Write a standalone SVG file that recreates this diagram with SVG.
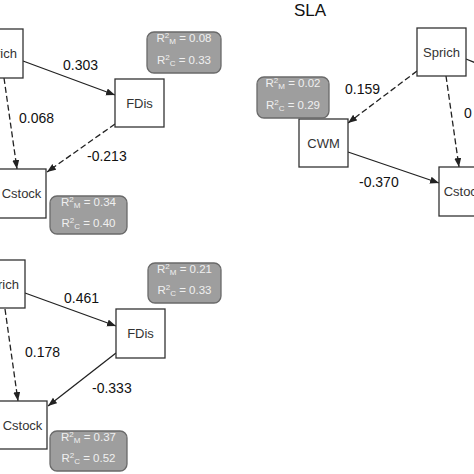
<svg xmlns="http://www.w3.org/2000/svg" width="474" height="474" viewBox="0 0 474 474">
<defs>
<marker id="ah" markerUnits="userSpaceOnUse" markerWidth="10" markerHeight="8" refX="9" refY="3.5" orient="auto">
<path d="M0,0 L9,3.5 L0,7 z" fill="#222"/>
</marker>
<style>
.node rect{fill:#fff;stroke:#333;stroke-width:1.3}
.node text{font-family:"Liberation Sans",Arial,sans-serif;font-size:13px;fill:#333;text-anchor:middle}
.r2 rect{fill:#9e9e9e;stroke:#6a6a6a;stroke-width:1.3}
.r2 text{font-family:"Liberation Sans",Arial,sans-serif;font-size:11.5px;fill:#f0f0f0;text-anchor:middle}
.r2 .s{font-size:8px}
.edge{stroke:#222;stroke-width:1.3;fill:none}
.dash{stroke-dasharray:6,3}
.lbl{font-family:"Liberation Sans",Arial,sans-serif;font-size:14px;fill:#111}
</style>
</defs>
<rect width="474" height="474" fill="#fff"/>
<text x="294" y="16" font-family="Liberation Sans, Arial, sans-serif" font-size="17" fill="#111">SLA</text>
<g id="connectors">
<line class="edge" x1="23" y1="61" x2="115" y2="95" marker-end="url(#ah)"/>
<line class="edge dash" x1="4" y1="78" x2="17" y2="169" marker-end="url(#ah)"/>
<line class="edge dash" x1="115" y1="124" x2="47" y2="172" marker-end="url(#ah)"/>
<line class="edge dash" x1="417" y1="71" x2="348" y2="123" marker-end="url(#ah)"/>
<line class="edge dash" x1="446" y1="76" x2="459" y2="167" marker-end="url(#ah)"/>
<line class="edge" x1="466" y1="59" x2="476" y2="63"/>
<line class="edge" x1="348" y1="152" x2="439" y2="183" marker-end="url(#ah)"/>
<line class="edge" x1="25" y1="293" x2="116" y2="326" marker-end="url(#ah)"/>
<line class="edge dash" x1="5" y1="309" x2="18" y2="401" marker-end="url(#ah)"/>
<line class="edge" x1="116" y1="353" x2="48" y2="406" marker-end="url(#ah)"/>
<text class="lbl" x="63" y="70">0.303</text>
<text class="lbl" x="19" y="123">0.068</text>
<text class="lbl" x="87" y="161">-0.213</text>
<text class="lbl" x="345" y="94">0.159</text>
<text class="lbl" x="464" y="118">0</text>
<text class="lbl" x="359" y="187">-0.370</text>
<text class="lbl" x="64" y="303">0.461</text>
<text class="lbl" x="25" y="357">0.178</text>
<text class="lbl" x="92" y="393">-0.333</text>
</g>
<g id="tl-sprich" class="node"><rect x="-26" y="29" width="49" height="49"/><text x="-1.5" y="58">Sprich</text></g>
<g id="tl-fdis" class="node"><rect x="115" y="79" width="49" height="48"/><text x="139.5" y="108">FDis</text></g>
<g id="tl-cstock" class="node"><rect x="-3" y="169" width="49" height="49"/><text x="21.5" y="198">Cstock</text></g>
<g id="sla-sprich" class="node"><rect x="417" y="28" width="49" height="48"/><text x="441.5" y="57">Sprich</text></g>
<g id="sla-cwm" class="node"><rect x="299" y="119" width="49" height="48"/><text x="323.5" y="148">CWM</text></g>
<g id="sla-cstock" class="node"><rect x="439" y="167" width="49" height="49"/><text x="463.5" y="196">Cstock</text></g>
<g id="bl-sprich" class="node"><rect x="-24" y="260" width="49" height="48"/><text x="0.5" y="289">Sprich</text></g>
<g id="bl-fdis" class="node"><rect x="116" y="309" width="49" height="49"/><text x="140.5" y="338">FDis</text></g>
<g id="bl-cstock" class="node"><rect x="-2" y="401" width="49" height="48"/><text x="22.5" y="430">Cstock</text></g>
<g id="r2-tl-fdis" class="r2"><rect x="147" y="32" width="74" height="41" rx="7"/>
<text x="184" y="42">R<tspan class="s" dy="-4">2</tspan><tspan class="s" dy="6">M</tspan><tspan dy="-2"> = 0.08</tspan></text>
<text x="184" y="64">R<tspan class="s" dy="-4">2</tspan><tspan class="s" dy="6">C</tspan><tspan dy="-2"> = 0.33</tspan></text></g>
<g id="r2-tl-cstock" class="r2"><rect x="50" y="196" width="77" height="38" rx="7"/>
<text x="88.5" y="206">R<tspan class="s" dy="-4">2</tspan><tspan class="s" dy="6">M</tspan><tspan dy="-2"> = 0.34</tspan></text>
<text x="88.5" y="227">R<tspan class="s" dy="-4">2</tspan><tspan class="s" dy="6">C</tspan><tspan dy="-2"> = 0.40</tspan></text></g>
<g id="r2-sla-cwm" class="r2"><rect x="257" y="77" width="72" height="41" rx="7"/>
<text x="293" y="87">R<tspan class="s" dy="-4">2</tspan><tspan class="s" dy="6">M</tspan><tspan dy="-2"> = 0.02</tspan></text>
<text x="293" y="109">R<tspan class="s" dy="-4">2</tspan><tspan class="s" dy="6">C</tspan><tspan dy="-2"> = 0.29</tspan></text></g>
<g id="r2-bl-fdis" class="r2"><rect x="148" y="263" width="73" height="40" rx="7"/>
<text x="184.5" y="273">R<tspan class="s" dy="-4">2</tspan><tspan class="s" dy="6">M</tspan><tspan dy="-2"> = 0.21</tspan></text>
<text x="184.5" y="294">R<tspan class="s" dy="-4">2</tspan><tspan class="s" dy="6">C</tspan><tspan dy="-2"> = 0.33</tspan></text></g>
<g id="r2-bl-cstock" class="r2"><rect x="50" y="431" width="77" height="40" rx="7"/>
<text x="88.5" y="441">R<tspan class="s" dy="-4">2</tspan><tspan class="s" dy="6">M</tspan><tspan dy="-2"> = 0.37</tspan></text>
<text x="88.5" y="462">R<tspan class="s" dy="-4">2</tspan><tspan class="s" dy="6">C</tspan><tspan dy="-2"> = 0.52</tspan></text></g>
</svg>
